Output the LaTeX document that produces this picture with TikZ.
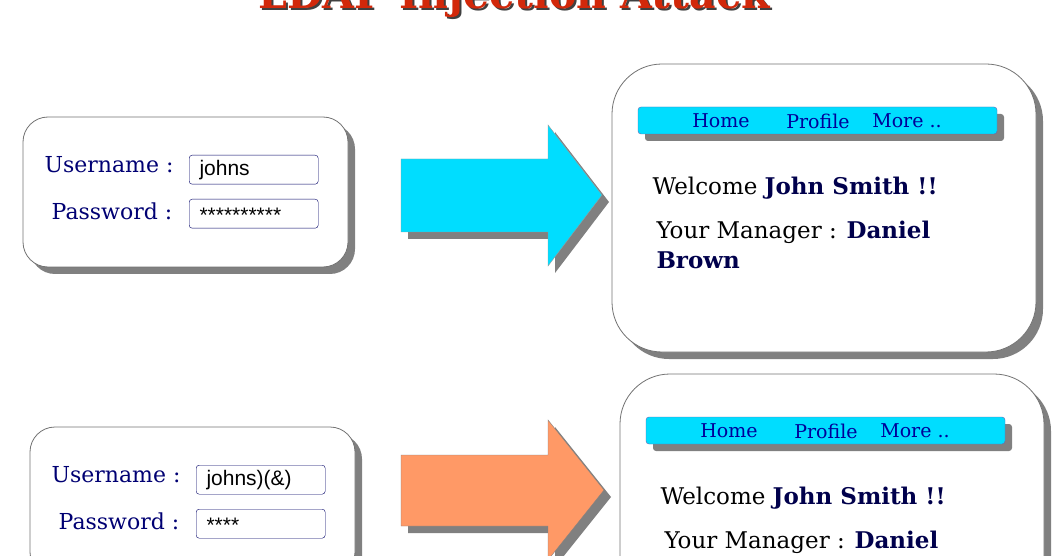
\documentclass[tikz,border=0pt]{standalone}
\usepackage{fontspec}
\setmainfont{DejaVu Serif}
\newfontfamily\inp{Liberation Sans}
\definecolor{cy}{RGB}{0,221,255}
\definecolor{orng}{RGB}{255,153,102}
\begin{document}
\begin{tikzpicture}[x=1pt,y=-1pt,
  lbl/.style={font=\fontsize{22}{24}\selectfont, text=blue!45!black},
  field/.style={draw=blue!40!black, rounded corners=3pt, minimum width=129pt, minimum height=29pt, anchor=north west, inner sep=0pt},
  ftxt/.style={font=\inp\fontsize{21}{23}\selectfont, anchor=west},
  panel/.style={draw=black!55, fill=white, line width=0.8pt},
  shad/.style={fill=black!50},
  nav/.style={font=\fontsize{19}{21}\selectfont, text=blue!60!black},
  big/.style={font=\fontsize{23}{26}\selectfont, anchor=west}]
\useasboundingbox (0,0) rectangle (1058,556);
\node[font=\bfseries\fontsize{41}{44}\selectfont, text=black!75, anchor=base] at (516,11) {LDAP Injection Attack};
\node[font=\bfseries\fontsize{41}{44}\selectfont, text={rgb,255:red,210;green,40;blue,10}, anchor=base] (title) at (514,9) {LDAP Injection Attack};
\foreach \dx/\dy/\inU/\inP/\s in {0/0/johns/**********/a, 7/310/johns)(\&)/****/b}{
 \begin{scope}[shift={(\dx,\dy)}]
  \fill[shad, rounded corners=25pt] (30,124) rectangle (355,274);
  \draw[panel, rounded corners=25pt] (23,117) rectangle (348,267);
  \node[lbl] (u\s) at (109,165) {Username :};
  \node[lbl] (p\s) at (112,211) {Password :};
  \node[field] (fu\s) at (189,155) {};
  \node[field] (fp\s) at (189,199) {};
  \node[ftxt] at ([xshift=7pt]fu\s.west) {\inU};
  \node[ftxt] at ([xshift=7pt,yshift=-2pt]fp\s.west) {\inP};
 \end{scope}
}
\fill[shad] (408,166) -- (555,166) -- (555,132) -- (609,202) -- (555,273) -- (555,239) -- (408,239) -- cycle;
\draw[fill=cy, draw=black!40] (401,159) -- (548,159) -- (548,125) -- (602,195) -- (548,266) -- (548,232) -- (401,232) -- cycle;
\fill[shad] (408,462) -- (555,462) -- (555,427) -- (611,497) -- (555,567) -- (555,533) -- (408,533) -- cycle;
\draw[fill=orng, draw=black!50] (401,455) -- (548,455) -- (548,420) -- (604,490) -- (548,560) -- (548,526) -- (401,526) -- cycle;
\foreach \dx/\dy/\s in {0/0/a, 8/310/b}{
 \begin{scope}[shift={(\dx,\dy)}]
  \fill[shad, rounded corners=50pt] (619,71) rectangle (1043,359);
  \draw[panel, rounded corners=50pt] (612,64) rectangle (1036,352);
  \fill[shad, rounded corners=3pt] (645,114) rectangle (1004,141);
  \draw[fill=cy, draw=blue!50!black!60, rounded corners=3pt] (638,107) rectangle (997,134);
  \node[nav] (h\s) at (721,121) {Home};
  \node[nav] (pr\s) at (818,121) {Profile};
  \node[nav] (m\s) at (907,121) {More ..};
  \node[big] (w\s) at (649,188) {Welcome {\bfseries\color{blue!30!black}John Smith !!}};
  \node[big] (y\s) at (653,232) {Your Manager : {\bfseries\color{blue!30!black}Daniel}};
  \node[big, text=blue!30!black, font=\bfseries\fontsize{23}{26}\selectfont] (br\s) at (653,260) {Brown};
 \end{scope}
}
\end{tikzpicture}
\end{document}
